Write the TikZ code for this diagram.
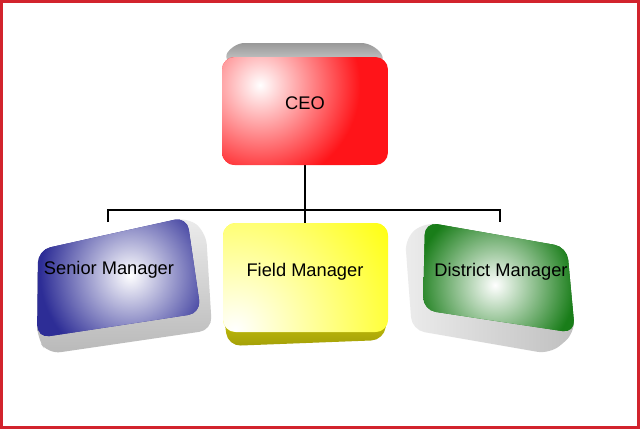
\documentclass[tikz,border=0pt]{standalone}
\usepackage{fontspec}
\setmainfont{Liberation Sans}
\usetikzlibrary{positioning}

\definecolor{frame red}{RGB}{210,35,45}
\definecolor{ceo red}{RGB}{255,20,25}
\definecolor{senior blue}{RGB}{45,45,150}
\definecolor{field yellow}{RGB}{255,255,10}
\definecolor{field olive}{RGB}{205,200,10}
\definecolor{district green}{RGB}{25,125,25}

\begin{document}
\begin{tikzpicture}[x=0.025cm,y=-0.025cm,
  box label/.style={font=\fontsize{13}{15}\selectfont, text=black},
  org line/.style={line width=1.6pt, black},
  face/.style={rounded corners=9pt}]
\useasboundingbox (0,0) rectangle (640,429);
\fill[white] (0,0) rectangle (640,429);
\draw[frame red, line width=2pt] (1.5,1.5) rectangle (638.5,427.5);

% anchors for the connectors
\coordinate (ceo bottom) at (305,160);
\coordinate (bus) at (305,210);
\coordinate (senior top) at (108,222);
\coordinate (field top) at (305,225);
\coordinate (district top) at (500,222);

\draw[org line] (ceo bottom) -- (bus);
\draw[org line] (senior top) -- ++(0,-12) -| (district top);
\draw[org line] (field top) -- (bus);

% CEO
\shade[face, top color=gray!80, bottom color=gray!40] (222,64) -- (232,43) -- (374,43) -- (388,64) -- cycle;
\begin{scope}
\clip[face] (222,57) rectangle (388,165);
\fill[ceo red] (222,57) rectangle (388,165);
\shade[inner color=white, outer color=ceo red] (160,-15) rectangle (360,185);
\end{scope}

% Senior Manager
\shade[face, top color=gray!15, bottom color=gray!55] (38,250) -- (187,217) -- (206,232) -- (212,330) -- (48,354) -- (37,338) -- cycle;
\begin{scope}
\clip[face] (38,250) -- (187,217) -- (201,313) -- (37,338) -- cycle;
\fill[senior blue] (30,210) rectangle (210,345);
\shade[inner color=white, outer color=senior blue] (40,185) rectangle (220,365);
\end{scope}

% Field Manager
\shade[face, top color=field olive, bottom color=field olive!80!black] (223,310) -- (388,310) -- (384,340) -- (228,346) -- cycle;
\begin{scope}
\clip[face] (223,223) rectangle (388,332);
\fill[field yellow] (223,223) rectangle (388,332);
\shade[inner color=white, outer color=field yellow] (45,140) rectangle (425,520);
\end{scope}

% District Manager
\shade[face, left color=gray!15, right color=gray!50] (425,222) -- (567,247) -- (575,333) -- (550,354) -- (412,330) -- (405,238) -- cycle;
\begin{scope}
\clip[face] (425,222) -- (567,247) -- (575,333) -- (423,310) -- cycle;
\fill[district green] (420,220) rectangle (580,335);
\shade[inner color=white, outer color=district green] (415,205) rectangle (575,365);
\end{scope}

\node[box label] (ceo) at (305,103) {CEO};
\node[box label] (senior) at (109,270) {Senior Manager};
\node[box label] (field) at (305,272) {Field Manager};
\node[box label] (district) at (501,272) {District Manager};
\end{tikzpicture}
\end{document}
